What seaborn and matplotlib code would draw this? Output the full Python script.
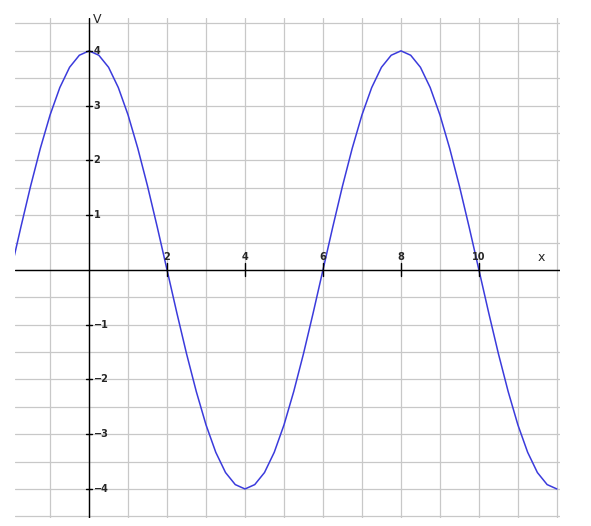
import matplotlib
matplotlib.use("Agg")
import matplotlib.pyplot as plt
import seaborn as sns
import numpy as np
import pandas as pd

x_vals = [-2 + 0.25 * i for i in range(57)]
v_vals = [0, 0.78, 1.53, 2.22, 2.83, 3.33, 3.70, 3.92, 4,
          3.92, 3.70, 3.33, 2.83, 2.22, 1.53, 0.78, 0,
          -0.78, -1.53, -2.22, -2.83, -3.33, -3.70, -3.92, -4,
          -3.92, -3.70, -3.33, -2.83, -2.22, -1.53, -0.78, 0,
          0.78, 1.53, 2.22, 2.83, 3.33, 3.70, 3.92, 4,
          3.92, 3.70, 3.33, 2.83, 2.22, 1.53, 0.78, 0,
          -0.78, -1.53, -2.22, -2.83, -3.33, -3.70, -3.92, -4]
x_ticks = [2, 4, 6, 8, 10]
y_ticks = [-4, -3, -2, -1, 1, 2, 3, 4]

sns.set_style("white")
fig = plt.figure(figsize=(5.91, 5.26), dpi=100)
ax = fig.add_axes([15/591, 8/526, 545/591, 500/526])
df = pd.DataFrame({"x": x_vals, "V": v_vals})
sns.lineplot(data=df, x="x", y="V", ax=ax, color="#3b3bdc", linewidth=1.1)
ax.set_xlim(-1.9, 12.08)
ax.set_ylim(-4.53, 4.6)
ax.set_xticks(np.arange(-1, 13, 1), minor=False)
ax.set_yticks(np.arange(-4.5, 4.75, 0.5))
ax.grid(True, color="#c8c8c8", linewidth=0.9)
ax.tick_params(length=0, labelbottom=False, labelleft=False)
for s in ["top", "right", "bottom", "left"]:
    ax.spines[s].set_visible(False)
ax.axhline(0, color="black", linewidth=1)
ax.axvline(0, color="black", linewidth=1)
for t in x_ticks:
    ax.plot([t, t], [-0.12, 0.12], color="black", linewidth=1)
    ax.text(t, 0.15, str(t), ha="center", va="bottom", fontsize=7, fontweight="bold")
for t in y_ticks:
    ax.plot([-0.08, 0.08], [t, t], color="black", linewidth=1)
    ax.text(0.12, t, str(t).replace("-", "\u2212"), ha="left", va="center", fontsize=7, fontweight="bold")
ax.text(0.2, 4.45, "V", ha="center", va="bottom", fontsize=9)
ax.text(11.6, 0.1, "x", ha="center", va="bottom", fontsize=9)
ax.set_xlabel("")
ax.set_ylabel("")
fig.savefig("out.png", dpi=100)
